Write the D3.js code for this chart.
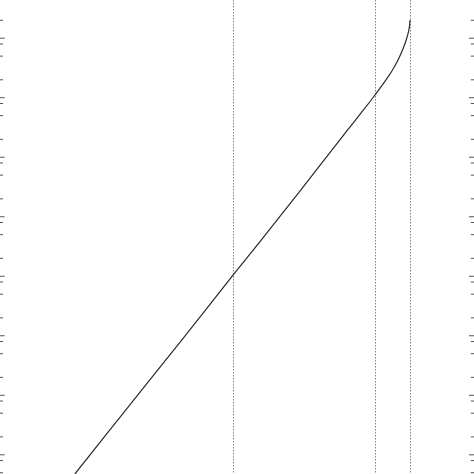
<!DOCTYPE html>
<html>
<head>
<meta charset="utf-8">
<script src="https://cdn.jsdelivr.net/npm/d3@7"></script>
<style>
  html, body { margin: 0; padding: 0; background: #fff; }
  svg { display: block; }
</style>
</head>
<body>
<svg id="chart"></svg>
<script>
// curve samples (x in plot units, y on a log scale)
const xValues = [1.58, 2.74, 3.80, 4.92, 5.91, 6.96, 7.333, 7.669, 7.911, 8.143, 8.281, 8.397, 8.492, 8.570, 8.612, 8.639, 8.650];
const yValues = [0.467, 6.8, 77, 1030, 1.0e4, 1.17e5, 2.82e5, 6.10e5, 1.09e6, 1.95e6, 2.87e6, 4.23e6, 6.22e6, 9.16e6, 1.20e7, 1.574e7, 1.99e7];

// vertical reference lines
const refLines = [4.92, 7.91, 8.65];

// tick values on the log axis
const majorTicks = [1, 10, 100, 1e3, 1e4, 1e5, 1e6, 1e7];
const minorTicks = [0.5, 0.8, 2, 5, 8, 20, 50, 80, 200, 500, 800, 2e3, 5e3, 8e3,
  2e4, 5e4, 8e4, 2e5, 5e5, 8e5, 2e6, 5e6, 8e6, 2e7];

const width = 474;
const height = 474;

const svg = d3.select('#chart')
  .attr('width', width)
  .attr('height', height);

const x = d3.scaleLinear()
  .domain([0, 10])
  .range([0, width]);

// one decade is about 59.5px; 1 sits at 454.3px
const y = d3.scaleLog()
  .domain([1, 1e7])
  .range([454.3, 37.7]);

const data = xValues.map((d, i) => ({ x: d, y: yValues[i] }));

// dotted reference lines
svg.selectAll('.ref')
  .data(refLines)
  .enter()
  .append('line')
  .attr('class', 'ref')
  .attr('x1', d => Math.round(x(d)) + 0.5)
  .attr('x2', d => Math.round(x(d)) + 0.5)
  .attr('y1', 0)
  .attr('y2', height)
  .attr('stroke', '#808080')
  .attr('stroke-width', 1)
  .attr('stroke-dasharray', '1.5,1.5');

// ticks on both edges
const addTicks = (axisFn, xPos, values, size) => {
  const g = svg.append('g')
    .attr('transform', `translate(${xPos},0)`)
    .call(axisFn(y).tickValues(values).tickSize(size).tickFormat(''));
  g.select('.domain').remove();
  g.selectAll('line').attr('stroke', '#555').attr('stroke-width', 1);
};

addTicks(d3.axisRight, 0, majorTicks, 4.7);
addTicks(d3.axisRight, 0, minorTicks, 3);
addTicks(d3.axisLeft, width, majorTicks, 5);
addTicks(d3.axisLeft, width, minorTicks, 3.2);

// the curve
const line = d3.line()
  .x(d => x(d.x))
  .y(d => y(d.y))
  .curve(d3.curveCatmullRom.alpha(0.5));

svg.append('path')
  .datum(data)
  .attr('fill', 'none')
  .attr('stroke', '#2a2a2a')
  .attr('stroke-width', 1.2)
  .attr('d', line);
</script>
</body>
</html>
